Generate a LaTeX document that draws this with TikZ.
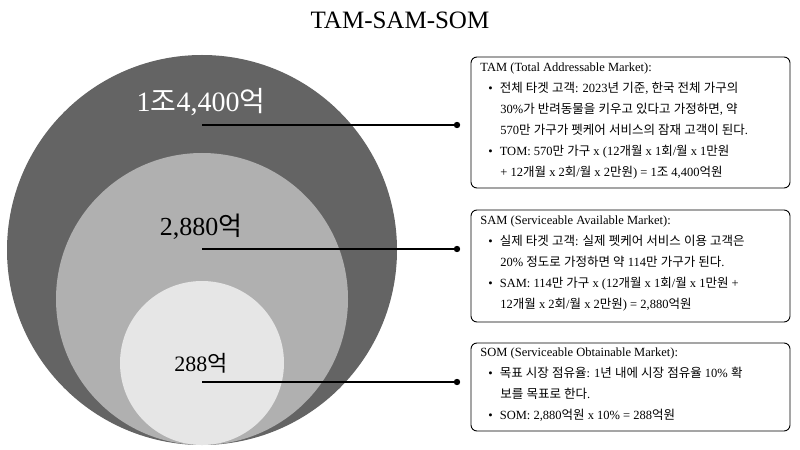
\documentclass[tikz,border=0pt]{standalone}
\usepackage{fontspec}
\setmainfont{Liberation Serif}
\newfontfamily\cjk{Noto Sans CJK KR}
\XeTeXinterchartokenstate=1
\newXeTeXintercharclass\krclass
\newcount\hc \hc="AC00
\loop \XeTeXcharclass\hc=\krclass \advance\hc 1 \ifnum\hc<"D7A4 \repeat
\XeTeXinterchartoks 0 \krclass = {\begingroup\cjk}
\XeTeXinterchartoks 4095 \krclass = {\begingroup\cjk}
\XeTeXinterchartoks \krclass 0 = {\endgroup}
\XeTeXinterchartoks \krclass 4095 = {\endgroup}
\begin{document}
\begin{tikzpicture}[x=1bp,y=-1bp,
  infobox/.style={draw=black, line width=0.9bp, rounded corners=6bp, fill=white, anchor=north west, align=left, inner sep=0pt, font=\fontsize{12.5bp}{21bp}\selectfont},
  lead/.style={line width=1.3bp},
  bigtxt/.style={font=\fontsize{28bp}{30bp}\selectfont}]
\useasboundingbox (0,0) rectangle (800,450);
\fill[white] (0,0) rectangle (800,450);
\node (title) at (400,20) {\fontsize{25bp}{28bp}\selectfont TAM-SAM-SOM};
\fill[fill={rgb,255:red,100;green,100;blue,100}] (202,250) circle (195);
\fill[fill={rgb,255:red,176;green,176;blue,176}] (202,299) circle (146);
\fill[fill={rgb,255:red,230;green,230;blue,230}] (202,363) circle (82);
\node[bigtxt, text=white] (tamv) at (201,102) {1조4,400억};
\node[font=\fontsize{26bp}{28bp}\selectfont] (samv) at (201,227) {2,880억};
\node[font=\fontsize{22bp}{24bp}\selectfont] (somv) at (201,363) {288억};
\coordinate (ta) at (202,125); \coordinate (sa) at (202,249); \coordinate (so) at (202,382);
\coordinate (tb) at (457,125); \coordinate (sb) at (457,249); \coordinate (sob) at (457,382);
\draw[lead] (ta) -- (tb); \fill (tb) circle (3.2);
\draw[lead] (sa) -- (sb); \fill (sb) circle (3.2);
\draw[lead] (so) -- (sob); \fill (sob) circle (3.2);
\draw[draw=black, line width=0.9bp, rounded corners=6bp] (471,57) rectangle (790,188);
\draw[draw=black, line width=0.9bp, rounded corners=6bp] (471,210) rectangle (790,322);
\draw[draw=black, line width=0.9bp, rounded corners=6bp] (471,343) rectangle (790,431);
\node[infobox, draw=none, fill=none] (tamt) at (480,62) {TAM (Total Addressable Market):\\
\hspace*{8bp}\textbullet\hspace{7bp}전체 타겟 고객: 2023년 기준, 한국 전체 가구의\\
\hspace*{20bp}30\%가 반려동물을 키우고 있다고 가정하면, 약\\
\hspace*{20bp}570만 가구가 펫케어 서비스의 잠재 고객이 된다.\\
\hspace*{8bp}\textbullet\hspace{7bp}TOM: 570만 가구 x (12개월 x 1회/월 x 1만원\\
\hspace*{20bp}+ 12개월 x 2회/월 x 2만원) = 1조 4,400억원};
\node[infobox, draw=none, fill=none] (samt) at (480,215) {SAM (Serviceable Available Market):\\
\hspace*{8bp}\textbullet\hspace{7bp}실제 타겟 고객: 실제 펫케어 서비스 이용 고객은\\
\hspace*{20bp}20\% 정도로 가정하면 약 114만 가구가 된다.\\
\hspace*{8bp}\textbullet\hspace{7bp}SAM: 114만 가구 x (12개월 x 1회/월 x 1만원 +\\
\hspace*{20bp}12개월 x 2회/월 x 2만원) = 2,880억원};
\node[infobox, draw=none, fill=none] (somt) at (480,347) {SOM (Serviceable Obtainable Market):\\
\hspace*{8bp}\textbullet\hspace{7bp}목표 시장 점유율: 1년 내에 시장 점유율 10\% 확\\
\hspace*{20bp}보를 목표로 한다.\\
\hspace*{8bp}\textbullet\hspace{7bp}SOM: 2,880억원 x 10\% = 288억원};
\end{tikzpicture}
\end{document}
